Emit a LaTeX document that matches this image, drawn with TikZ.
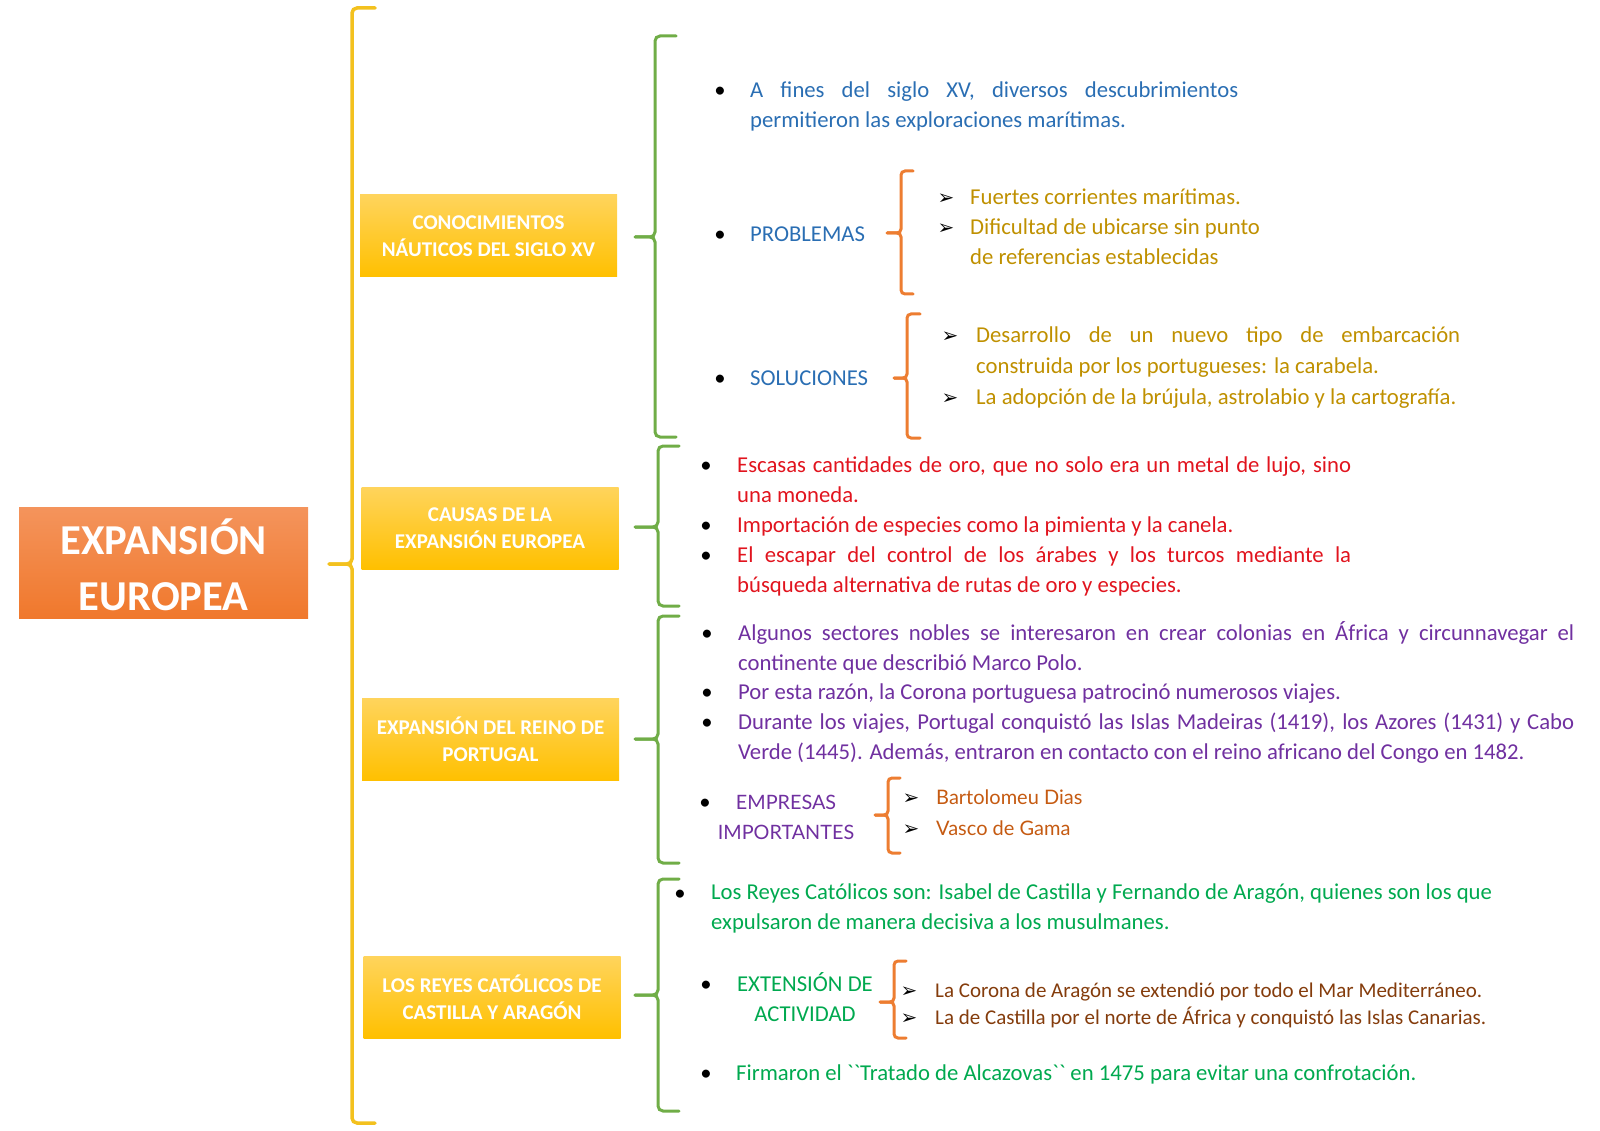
\documentclass[tikz,border=0pt]{standalone}
\usepackage{fontspec}
\setmainfont{Carlito}
\newfontfamily\simbolos{DejaVu Sans}
\newfontfamily\lato{Lato}
\newfontfamily\plana{Carlito}
\usepackage{tikz}
\definecolor{titulonar1}{HTML}{F4945C}
\definecolor{titulonar2}{HTML}{F0782C}
\definecolor{cajaama1}{HTML}{FFD45C}
\definecolor{cajaama2}{HTML}{FFC000}
\definecolor{llaveama}{HTML}{F3C11E}
\definecolor{llaveverde}{HTML}{70AD47}
\definecolor{llavenar}{HTML}{ED7D31}
\definecolor{azul}{HTML}{2A6EB3}
\definecolor{ocre}{HTML}{BF9000}
\definecolor{rojo}{HTML}{E1141E}
\definecolor{morado}{HTML}{7030A0}
\definecolor{cafe}{HTML}{C55A11}
\definecolor{verde}{HTML}{00A94F}
\definecolor{marron}{HTML}{843C0C}
\newcommand{\cuerpo}{\fontsize{22.7}{30}\selectfont}
% llave: color, x vertical, x gancho, x punta, y arriba, y medio, y abajo
\newcommand{\llave}[7]{%
  \draw[llave, #1] (#3,#5) -- (#2,#5) -- (#2,#6) -- (#4,#6);
  \draw[llave, #1] (#4,#6) -- (#2,#6) -- (#2,#7) -- (#3,#7);
}

\begin{document}
\begin{tikzpicture}[
  x=1pt, y=-1pt,
  titulo/.style={
    top color=titulonar1,
    bottom color=titulonar2,
    minimum width=289pt,
    minimum height=111pt,
    inner sep=0pt,
  },
  titulotexto/.style={
    inner sep=0pt,
    align=center,
    text=white,
    font=\fontsize{42.6}{56}\selectfont\bfseries,
  },
  caja/.style={
    top color=cajaama1,
    bottom color=cajaama2,
    minimum width=257pt,
    minimum height=82pt,
    inner sep=0pt,
    align=center,
    text=white,
    font=\fontsize{21}{27.5}\selectfont\bfseries,
  },
  llave/.style={
    line width=3pt,
    rounded corners=5pt,
    line cap=round,
  },
  texto/.style={
    anchor=base west,
    inner sep=0pt,
    font=\cuerpo,
  },
  parrafo/.style={
    texto,
    align=justify,
    text width=#1,
  },
  vineta/.style={
    anchor=base,
    inner sep=0pt,
    font=\cuerpo,
    text=black,
  },
  flecha/.style={
    anchor=base,
    inner sep=0pt,
    font=\simbolos\fontsize{20}{20}\selectfont,
    text=black,
  },
]

\useasboundingbox (0,0) rectangle (1600,1131);

% =============================================================================
% Titulo y categorias
% =============================================================================
\node[titulo] (expansion) at (163.7,562.5) {};
\node[titulotexto, yshift=-2.5pt] (expansionTxt) at (expansion.center) {EXPANSIÓN\\EUROPEA};

\node[caja] (conocimientos) at (488.5,236) {CONOCIMIENTOS\\NÁUTICOS DEL SIGLO XV};
\node[caja] (causas) at (490,528) {CAUSAS DE LA\\EXPANSIÓN EUROPEA};
\node[caja] (portugal) at (490.5,739.5) {EXPANSIÓN DEL REINO DE\\PORTUGAL};
\node[caja] (reyes) at (492,997) {LOS REYES CATÓLICOS DE\\CASTILLA Y ARAGÓN};

% =============================================================================
% Llaves
% =============================================================================
\llave{llaveama, line width=3.5pt}{352}{375}{329}{8}{564}{1123}

\llave{llaveverde}{655}{676}{635}{36}{237}{437}
\llave{llaveverde}{658}{679}{635}{446}{527}{606}
\llave{llaveverde}{658}{679}{635}{616}{739}{863}
\llave{llaveverde}{658}{679}{635}{879}{995}{1111}

\llave{llavenar, rounded corners=4pt}{901}{913}{887}{171}{233}{294}
\llave{llavenar, rounded corners=4pt}{907}{920}{894}{314}{378}{438}
\llave{llavenar, rounded corners=4pt}{888}{900}{875}{778}{815}{853}
\llave{llavenar, rounded corners=4pt}{894}{906}{880}{961}{1002}{1038}

% =============================================================================
% Conocimientos nauticos
% =============================================================================
\node[vineta] (vinFines) at (720,97.5) {\textbullet};
\node[parrafo=488pt, text=azul] (txtFines) at (750,97.5) {%
  A fines del siglo XV, diversos descubrimientos\linebreak
  permitieron las exploraciones marítimas.};

\node[vineta] (vinProblemas) at (720,241.5) {\textbullet};
\node[texto, text=azul] (txtProblemas) at (750,241.5) {PROBLEMAS};

\node[flecha] (flCorrientes) at (946,204.5) {➢};
\node[texto, text=ocre] (txtCorrientes) at (970,204.5) {Fuertes corrientes marítimas.};
\node[flecha] (flDificultad) at (946,235) {➢};
\node[texto, align=left, text=ocre] (txtDificultad) at (970,265) {%
  Dificultad de ubicarse sin punto\\de referencias establecidas};

\node[vineta] (vinSoluciones) at (720,385) {\textbullet};
\node[texto, text=azul] (txtSoluciones) at (750,385) {SOLUCIONES};

\node[flecha] (flDesarrollo) at (950,343) {➢};
\node[parrafo=484pt, text=ocre] (txtDesarrollo) at (976,343) {%
  Desarrollo de un nuevo tipo de embarcación\linebreak
  construida por los portugueses: la carabela.};
\node[flecha] (flAdopcion) at (950,404.5) {➢};
\node[texto, text=ocre] (txtAdopcion) at (976,404.5) {%
  La adopción de la brújula, astrolabio y la cartografía.};

% =============================================================================
% Causas
% =============================================================================
\node[vineta] (vinOro) at (706,472.5) {\textbullet};
\node[parrafo=614pt, text=rojo] (txtOro) at (737,472.5) {%
  Escasas cantidades de oro, que no solo era un metal de lujo, sino\linebreak
  una moneda.};
\node[vineta] (vinEspecies) at (706,532) {\textbullet};
\node[texto, text=rojo] (txtEspecies) at (737,532) {%
  Importación de especies como la pimienta y la canela.};
\node[vineta] (vinArabes) at (706,562.5) {\textbullet};
\node[parrafo=614pt, text=rojo] (txtArabes) at (737,562.5) {%
  El escapar del control de los árabes y los turcos mediante la\linebreak
  búsqueda alternativa de rutas de oro y especies.};

% =============================================================================
% Portugal
% =============================================================================
\node[vineta] (vinNobles) at (707,640) {\textbullet};
\node[parrafo=836pt, text=morado] (txtNobles) at (738,640) {%
  Algunos sectores nobles se interesaron en crear colonias en África y circunnavegar el\linebreak
  continente que describió Marco Polo.};
\node[vineta] (vinCorona) at (707,699.2) {\textbullet};
\node[texto, text=morado] (txtCorona) at (738,699.2) {%
  Por esta razón, la Corona portuguesa patrocinó numerosos viajes.};
\node[vineta] (vinViajes) at (707,729.8) {\textbullet};
\node[parrafo=836pt, text=morado] (txtViajes) at (738,729.8) {%
  Durante los viajes, Portugal conquistó las Islas Madeiras (1419), los Azores (1431) y Cabo\linebreak
  Verde (1445). Además, entraron en contacto con el reino africano del Congo en 1482.};

\node[vineta] (vinEmpresas) at (705,809.5) {\textbullet};
\node[vineta, align=center, text=morado, font=\lato\fontsize{19.8}{30}\selectfont]
  (txtEmpresas) at (786,839) {EMPRESAS\\IMPORTANTES};

\node[flecha] (flDias) at (911,804.5) {➢};
\node[texto, text=cafe, font=\lato\fontsize{20}{30}\selectfont] (txtDias) at (936,804.5) {Bartolomeu Dias};
\node[flecha] (flGama) at (911,835) {➢};
\node[texto, text=cafe, font=\lato\fontsize{20}{30}\selectfont] (txtGama) at (936,835) {Vasco de Gama};

% =============================================================================
% Reyes Catolicos
% =============================================================================
\node[vineta] (vinIsabel) at (680,900) {\textbullet};
\node[texto, align=left, text=verde] (txtIsabel) at (711,929.5) {%
  Los Reyes Católicos son: Isabel de Castilla y Fernando de Aragón, quienes son los que\\
  expulsaron de manera decisiva a los musulmanes.};

\node[vineta] (vinExtension) at (706,991.5) {\textbullet};
\node[vineta, align=center, text=verde] (txtExtension) at (805,1021) {EXTENSIÓN DE\\ACTIVIDAD};

\node[flecha] (flAragon) at (909,997) {➢};
\node[texto, text=marron, font=\fontsize{21}{27}\selectfont] (txtAragon) at (935,997) {%
  La Corona de Aragón se extendió por todo el Mar Mediterráneo.};
\node[flecha] (flCastilla) at (909,1024.5) {➢};
\node[texto, text=marron, font=\fontsize{21}{27}\selectfont] (txtCastilla) at (935,1024.5) {%
  La de Castilla por el norte de África y conquistó las Islas Canarias.};

\node[vineta] (vinTratado) at (706,1080.5) {\textbullet};
\node[texto, text=verde] (txtTratado) at (736,1080.5) {%
  Firmaron el {\plana\symbol{96}\symbol{96}}Tratado de Alcazovas{\plana\symbol{96}\symbol{96}} en 1475 para evitar una confrotación.};

\end{tikzpicture}
\end{document}
